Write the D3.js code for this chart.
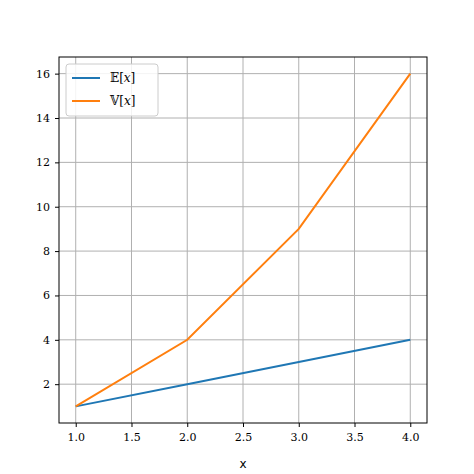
<!DOCTYPE html>
<html><head><meta charset="utf-8"><script src="https://cdn.jsdelivr.net/npm/d3@7"></script>
<style>body{margin:0;background:#fff}</style></head><body>
<script>
const xs=[1,2,3,4];
const meanVals=[1,2,3,4];
const varVals=[1,4,9,16];
const xTicks=[1.0,1.5,2.0,2.5,3.0,3.5,4.0];
const yTicks=[2,4,6,8,10,12,14,16];
const W=474,H=474,L=59,R=427,T=57,B=423;
const svg=d3.select("body").append("svg").attr("width",W).attr("height",H);
const x=d3.scaleLinear().domain([0.85,4.15]).range([L,R]);
const y=d3.scaleLinear().domain([0.25,16.75]).range([B,T]);
const g=svg.append("g");
g.selectAll(".gx").data(xTicks).enter().append("line").attr("x1",d=>x(d)).attr("x2",d=>x(d)).attr("y1",T).attr("y2",B).attr("stroke","#b0b0b0").attr("stroke-width",1);
g.selectAll(".gy").data(yTicks).enter().append("line").attr("y1",d=>y(d)).attr("y2",d=>y(d)).attr("x1",L).attr("x2",R).attr("stroke","#b0b0b0").attr("stroke-width",1);
const ax=svg.append("g").attr("transform",`translate(0,${B})`).call(d3.axisBottom(x).tickValues(xTicks).tickFormat(d3.format(".1f")).tickSize(4).tickPadding(6));
const ay=svg.append("g").attr("transform",`translate(${L},0)`).call(d3.axisLeft(y).tickValues(yTicks).tickSize(4).tickPadding(5));
[ax,ay].forEach(a=>{a.select(".domain").remove();a.selectAll("text").attr("font-family","DejaVu Serif").attr("font-size",11).attr("fill","#000");a.selectAll("line").attr("stroke","#000")});
const line=d3.line().x((d,i)=>x(xs[i])).y(d=>y(d));
svg.append("path").datum(meanVals).attr("d",line).attr("fill","none").attr("stroke","#1f77b4").attr("stroke-width",2);
svg.append("path").datum(varVals).attr("d",line).attr("fill","none").attr("stroke","#ff7f0e").attr("stroke-width",2);
svg.append("rect").attr("x",L).attr("y",T).attr("width",R-L).attr("height",B-T).attr("fill","none").attr("stroke","#000").attr("stroke-width",1);
svg.append("text").attr("x",(L+R)/2).attr("y",468).attr("text-anchor","middle").attr("font-family","DejaVu Sans").attr("font-size",12).text("x");
const lg=svg.append("g");
lg.append("rect").attr("x",66).attr("y",64).attr("width",92).attr("height",52).attr("rx",3).attr("fill","#fff").attr("fill-opacity",0.85).attr("stroke","#ccc");
[["𝔼",'#1f77b4'],["𝕍",'#ff7f0e']].forEach((s,i)=>{
 const yy=78+i*23;
 lg.append("line").attr("x1",72).attr("x2",100).attr("y1",yy).attr("y2",yy).attr("stroke",s[1]).attr("stroke-width",2);
 const t=lg.append("text").attr("x",110).attr("y",yy+4).attr("font-family","DejaVu Serif").attr("font-size",12);
 t.append("tspan").text(s[0]+"[");t.append("tspan").attr("font-style","italic").text("x");t.append("tspan").text("]");
});
</script></body></html>
